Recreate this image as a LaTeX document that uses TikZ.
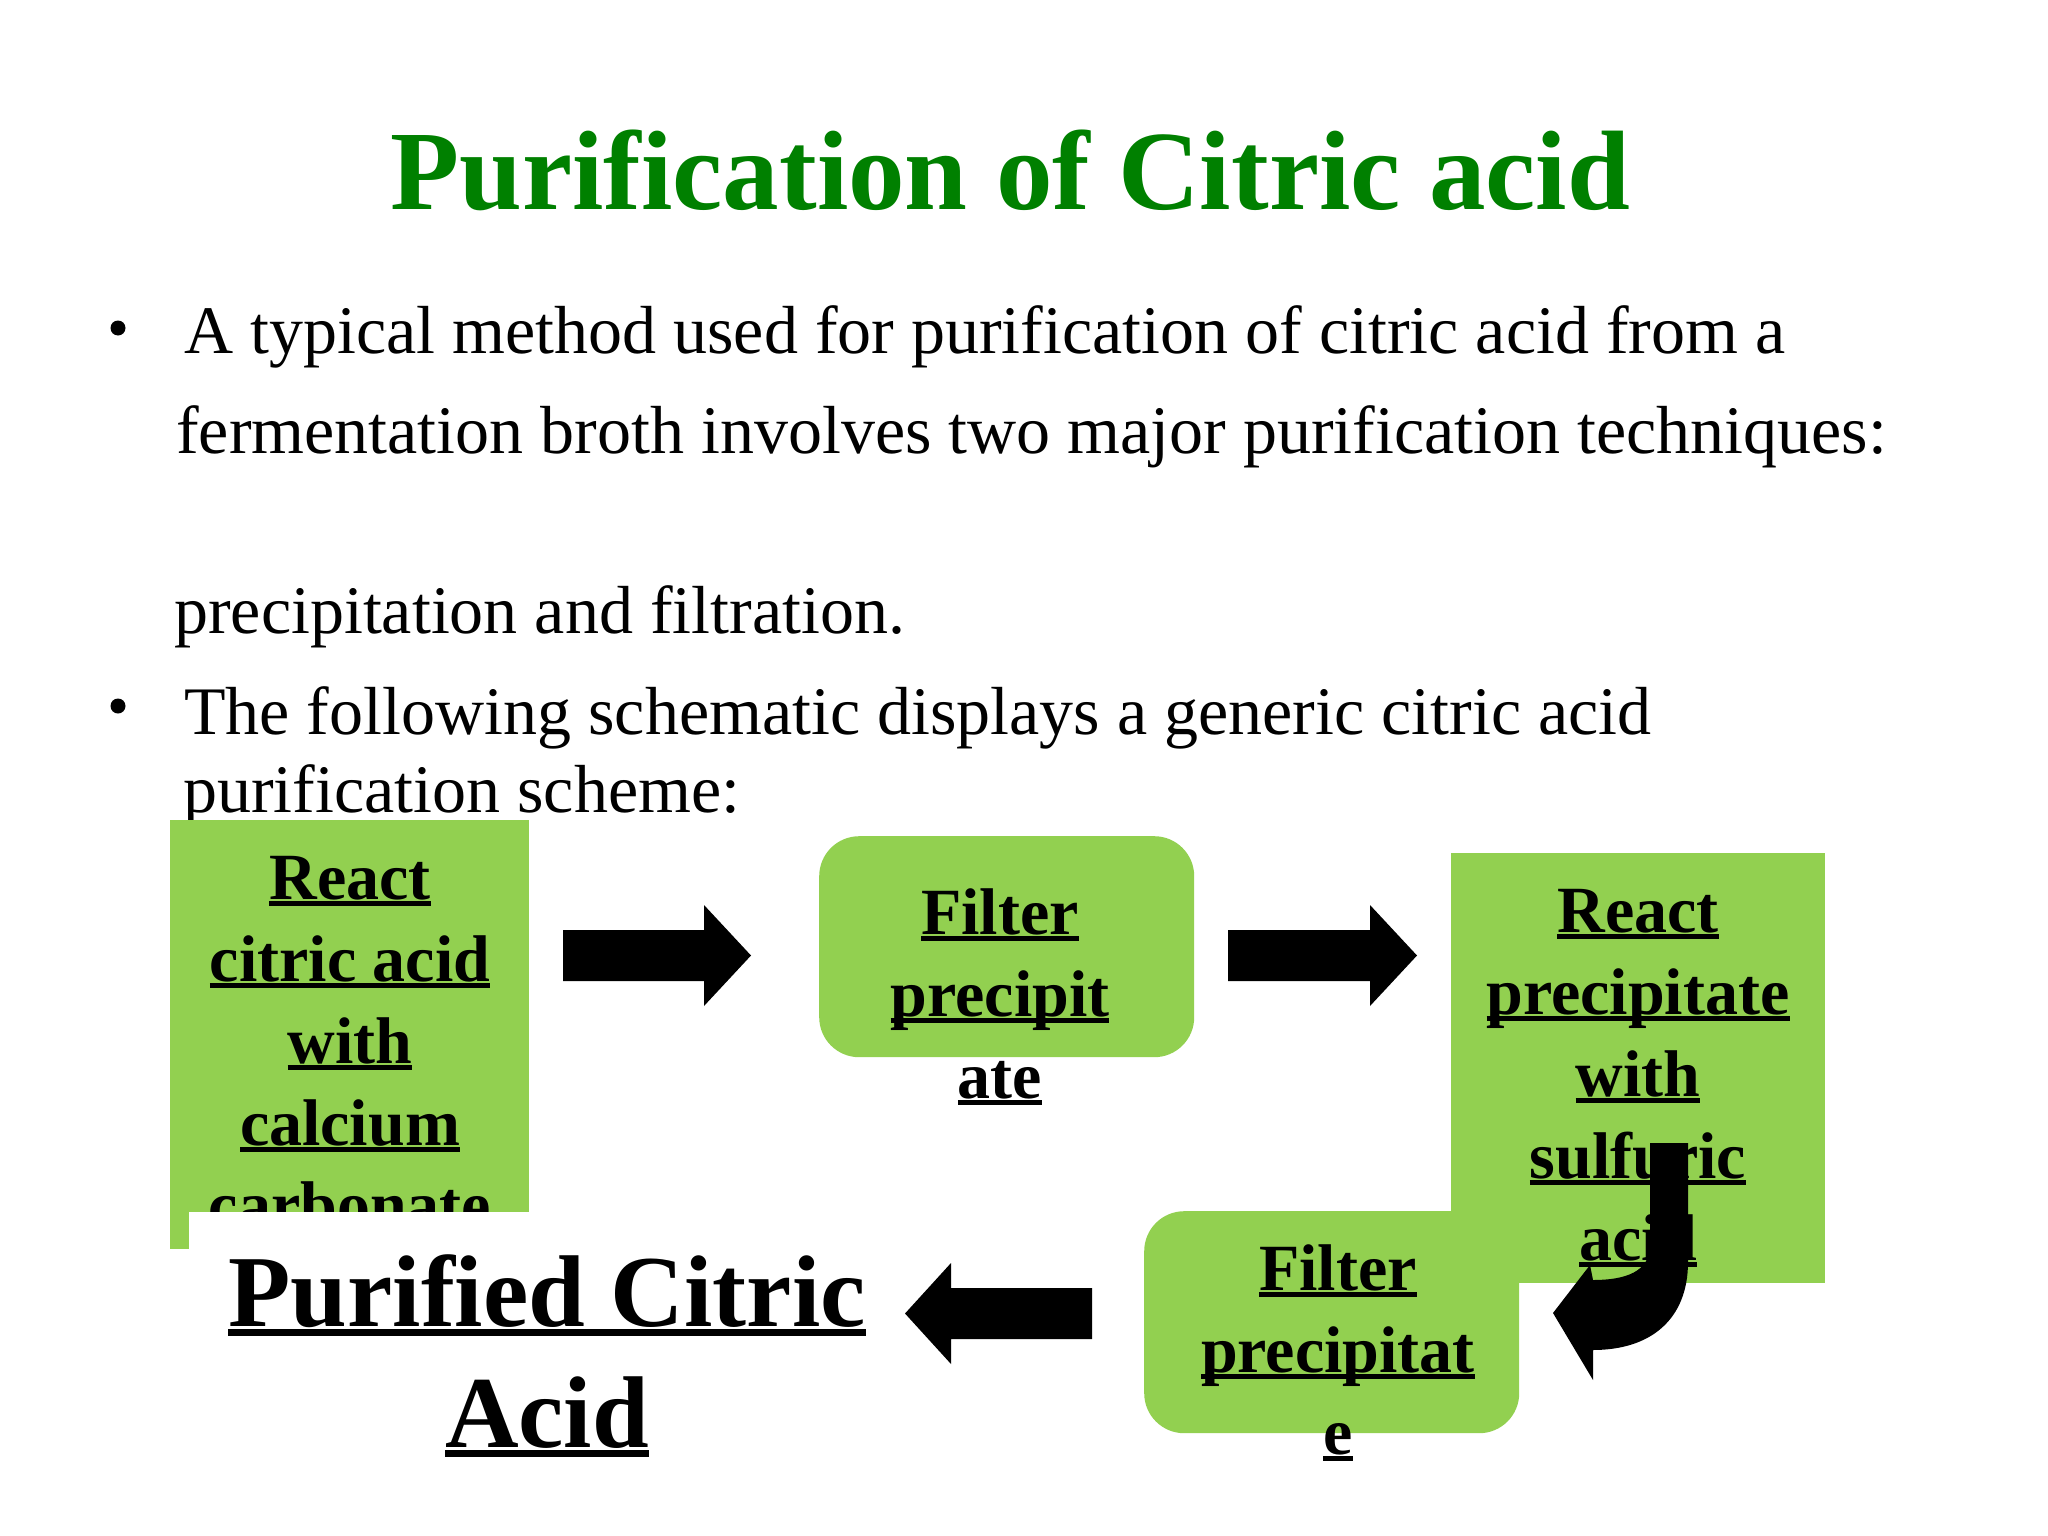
\documentclass[tikz,border=0pt]{standalone}
\usepackage{fontspec}
\setmainfont{Liberation Serif}
\definecolor{boxgreen}{RGB}{146,208,80}
\definecolor{titlegreen}{RGB}{0,128,0}
\newcommand\myul[1]{\setbox0\hbox{#1}\rlap{\rule[-0.1em]{\wd0}{0.07em}}\box0}
\newcommand\stk[2]{\vtop{\baselineskip=#1\lineskiplimit=-1000pt\halign{\hfil\myul{##}\hfil\cr #2\crcr}}}
\tikzset{
  greenbox/.style={fill=boxgreen, draw=none, inner sep=0pt, anchor=north west},
  boxtxt/.style={anchor=base, inner sep=0pt, font=\fontsize{66}{82}\selectfont\bfseries},
  bodytxt/.style={anchor=base west, inner sep=0pt, font=\fontsize{68}{80}\selectfont},
  bul/.style={circle, fill=black, draw=none, inner sep=0pt, minimum size=15pt},
  blockarrow/.style={fill=black, draw=none}
}
\begin{document}
\begin{tikzpicture}[x=1pt,y=-1pt]
\useasboundingbox (0,0) rectangle (2048,1536);
\fill[white] (0,0) rectangle (2048,1536);
% title
\node[anchor=base, inner sep=0pt, font=\fontsize{113}{130}\selectfont\bfseries, text=titlegreen] (title) at (1010,209) {Purification of Citric acid};
% bullets
\node[bul] (b1) at (118,328) {};
\node[bodytxt] (l1) at (184,353) {A typical method used for purification of citric acid from a};
\node[bodytxt] (l2) at (176,453) {fermentation broth involves two major purification techniques:};
\node[bodytxt] (l3) at (174,633) {precipitation and filtration.};
\node[bul] (b2) at (118,706) {};
\node[bodytxt] (l4) at (184,734) {The following schematic displays a generic citric acid};
\node[bodytxt] (l5) at (183,812) {purification scheme:};
% boxes
\node[greenbox, minimum width=359pt, minimum height=429pt] (box1) at (170,820) {};
\node[boxtxt] (t1) at (350,899) {\stk{82pt}{React\cr citric acid\cr with\cr calcium\cr carbonate}};
\node[greenbox, rounded corners=40pt, minimum width=375pt, minimum height=221pt] (box2) at (819,836) {};
\node[boxtxt] (t2) at (1000,934) {\stk{82pt}{Filter\cr precipit\cr ate}};
\node[greenbox, minimum width=374pt, minimum height=430pt] (box3) at (1451,853) {};
\node[boxtxt] (t3) at (1638,932) {\stk{82pt}{React\cr precipitate\cr with\cr sulfuric\cr acid}};
\node[greenbox, rounded corners=40pt, minimum width=375pt, minimum height=222pt] (box4) at (1144,1211) {};
\node[boxtxt] (t4) at (1338,1290) {\stk{82pt}{Filter\cr precipitat\cr e}};
% curved arrow
\fill[blockarrow] (1650,1143) -- (1688,1143) -- (1688,1262)
  .. controls (1688,1320) and (1650,1350) .. (1593,1350)
  -- (1593,1380) -- (1553,1313) -- (1590,1265) -- (1593,1280)
  .. controls (1625,1280) and (1650,1272) .. (1650,1245) -- cycle;
% cover and final product
\node[fill=white, draw=none, anchor=north west, inner sep=0pt, minimum width=700pt, minimum height=280pt] (cover) at (189,1212) {};
\node[anchor=base, inner sep=0pt, font=\fontsize{102}{121}\selectfont\bfseries] (pur) at (547,1326) {\stk{121pt}{Purified Citric\cr Acid}};
% straight block arrows
\fill[blockarrow] (563,930) -- (704,930) -- (704,905) -- (751,955.5) -- (704,1006) -- (704,981) -- (563,981) -- cycle;
\fill[blockarrow] (1228,930) -- (1370,930) -- (1370,905) -- (1417,955.5) -- (1370,1006) -- (1370,981) -- (1228,981) -- cycle;
\fill[blockarrow] (1092,1288) -- (951,1288) -- (951,1263) -- (905,1313.5) -- (951,1364) -- (951,1339) -- (1092,1339) -- cycle;
\end{tikzpicture}
\end{document}
